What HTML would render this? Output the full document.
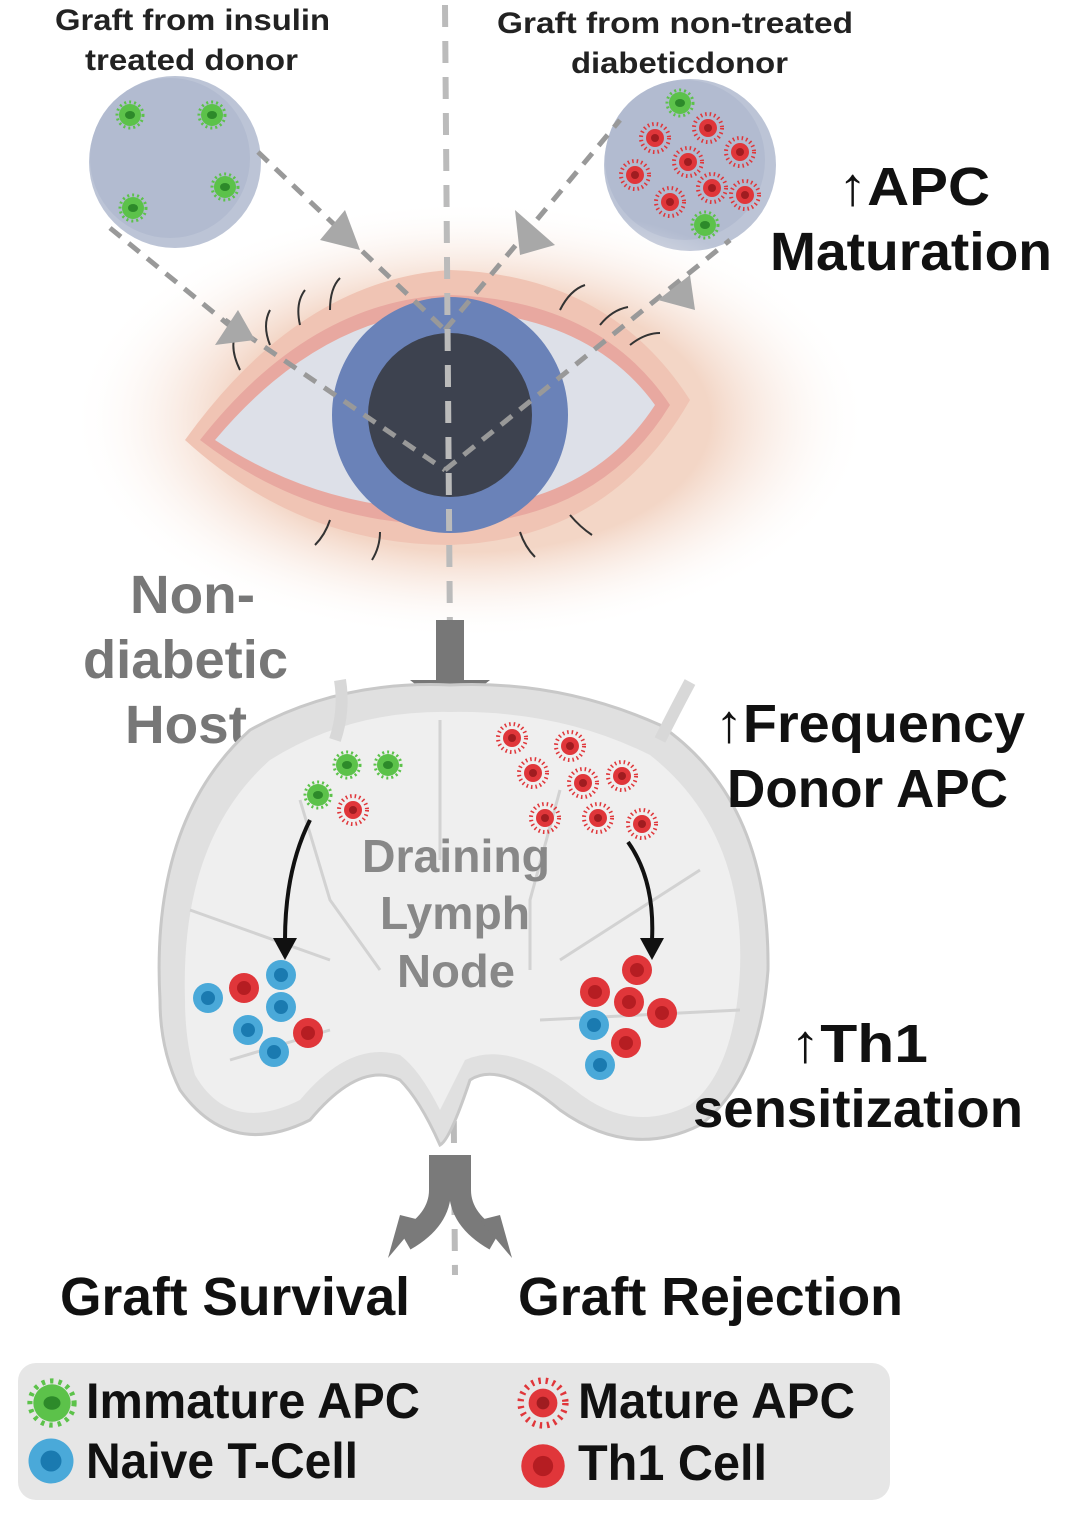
<!DOCTYPE html>
<html><head><meta charset="utf-8"><style>
html,body{margin:0;padding:0;background:#fff;}
svg{display:block;font-family:"Liberation Sans",sans-serif;font-weight:bold;}
</style></head><body>
<svg width="1080" height="1524" viewBox="0 0 1080 1524" xmlns="http://www.w3.org/2000/svg">
<defs>
<radialGradient id="halo" cx="50%" cy="50%" r="50%">
<stop offset="0.6" stop-color="#f3d6c6"/><stop offset="1" stop-color="#fff" stop-opacity="0"/></radialGradient>
<g id="gapc"><circle r="11" fill="#5cc24a"/><circle r="13" fill="none" stroke="#5cc24a" stroke-width="3" stroke-dasharray="2 3"/><ellipse rx="5" ry="4" fill="#2d8a2a"/></g>
<g id="rapc"><circle r="9" fill="#e0363a"/><circle r="14" fill="none" stroke="#e0363a" stroke-width="4" stroke-dasharray="1.5 3"/><circle r="4" fill="#a01c20"/></g>
<g id="bt"><circle r="15" fill="#4aa9d9"/><circle r="7" fill="#1a7ab0"/></g>
<g id="rt"><circle r="15" fill="#e0363a"/><circle r="7" fill="#b51d22"/></g>
</defs>

<g font-size="30" fill="#222">
<text x="55" y="30" textLength="275" lengthAdjust="spacingAndGlyphs">Graft from insulin</text>
<text x="85" y="70" textLength="213" lengthAdjust="spacingAndGlyphs">treated donor</text>
<text x="497" y="33" textLength="356" lengthAdjust="spacingAndGlyphs">Graft from non-treated</text>
<text x="571" y="73" textLength="217" lengthAdjust="spacingAndGlyphs">diabeticdonor</text>
</g>

<circle cx="175" cy="162" r="86" fill="#bcc4d6"/><circle cx="170" cy="158" r="80" fill="#b2bbd0"/>
<circle cx="690" cy="165" r="86" fill="#bcc4d6"/><circle cx="685" cy="160" r="80" fill="#b2bbd0"/>
<use href="#gapc" x="130" y="115"/><use href="#gapc" x="212" y="115"/><use href="#gapc" x="225" y="187"/><use href="#gapc" x="133" y="208"/>
<use href="#gapc" x="680" y="103"/><use href="#gapc" x="705" y="225"/>
<use href="#rapc" x="655" y="138"/><use href="#rapc" x="708" y="128"/><use href="#rapc" x="740" y="152"/><use href="#rapc" x="688" y="162"/><use href="#rapc" x="635" y="175"/><use href="#rapc" x="712" y="188"/><use href="#rapc" x="670" y="202"/><use href="#rapc" x="745" y="195"/>

<ellipse cx="470" cy="420" rx="400" ry="220" fill="url(#halo)"/>
<path d="M185 440 Q300 280 450 270 Q610 275 690 400 Q610 540 450 545 Q300 545 185 440Z" fill="#f0c4b4"/>
<path d="M200 440 Q310 300 450 295 Q600 300 670 405 Q600 520 450 525 Q310 525 200 440Z" fill="#e8a8a0"/>
<path d="M215 440 Q320 315 450 310 Q590 315 655 405 Q590 505 450 510 Q320 510 215 440Z" fill="#dde0e8"/>
<circle cx="450" cy="415" r="118" fill="#6a82b8"/>
<circle cx="450" cy="415" r="82" fill="#3d424f"/>
<g stroke="#333" stroke-width="2" fill="none">
<path d="M240 370 q-10 -20 -5 -35 M270 345 q-8 -20 0 -35 M300 325 q-5 -22 5 -35 M330 310 q0 -22 10 -32 M560 310 q10 -20 25 -25 M600 325 q12 -15 28 -18 M630 345 q15 -12 30 -12"/>
<path d="M330 520 q-5 15 -15 25 M380 532 q0 15 -8 28 M520 532 q5 15 15 25 M570 515 q10 12 22 20"/>
</g>

<g stroke="#999" stroke-width="5" stroke-dasharray="14 10" fill="none">
<line x1="258" y1="152" x2="445" y2="330"/><line x1="110" y1="228" x2="235" y2="330"/>
<line x1="445" y1="330" x2="620" y2="120"/><line x1="445" y1="470" x2="730" y2="240"/>
<line x1="225" y1="320" x2="445" y2="470"/>
</g>
<g fill="#a8a8a8">
<polygon points="360,250 345,210 320,240"/><polygon points="515,210 555,245 520,255"/>
<polygon points="215,345 255,340 238,310"/><polygon points="695,310 690,275 658,300"/>
</g>
<line x1="445" y1="5" x2="455" y2="1275" stroke="#bbb" stroke-width="6" stroke-dasharray="22 14"/>

<rect x="436" y="620" width="28" height="65" fill="#777"/>
<polygon points="410,680 490,680 450,712" fill="#777"/>

<g font-size="54" fill="#777">
<text x="130" y="613" textLength="125" lengthAdjust="spacingAndGlyphs">Non-</text>
<text x="83" y="678" textLength="205" lengthAdjust="spacingAndGlyphs">diabetic</text>
<text x="125" y="743" textLength="122" lengthAdjust="spacingAndGlyphs">Host</text></g>

<path d="M160 1000 Q150 820 250 730 Q340 680 450 685 Q560 680 660 725 Q770 800 768 970 Q760 1080 700 1125 Q630 1160 560 1110 Q500 1060 470 1080 Q450 1140 440 1145 Q420 1100 400 1080 Q360 1060 310 1120 Q230 1160 180 1090 Q160 1050 160 1000Z" fill="#e0e0e0" stroke="#c8c8c8" stroke-width="3"/>
<path d="M185 1000 Q180 840 270 760 Q350 710 450 712 Q560 710 650 755 Q745 830 740 970 Q735 1070 690 1105 Q630 1135 575 1090 Q510 1040 465 1060 Q445 1100 440 1110 Q420 1070 400 1055 Q350 1040 300 1100 Q230 1135 195 1075 Q185 1040 185 1000Z" fill="#efefef"/>
<g fill="none" stroke="#d8d8d8" stroke-width="12"><path d="M335 740 Q345 710 340 680"/><path d="M660 740 Q675 710 690 682"/></g>
<g stroke="#d2d2d2" stroke-width="3" fill="none">
<path d="M300 800 L330 900 L380 970 M190 910 L330 960 M560 790 L530 900 L530 970 M700 870 L560 960 M540 1020 L740 1010 M230 1060 L330 1030 M440 720 L440 860"/>
</g>
<g font-size="46" fill="#888">
<text x="362" y="872" textLength="188" lengthAdjust="spacingAndGlyphs">Draining</text>
<text x="380" y="929" textLength="150" lengthAdjust="spacingAndGlyphs">Lymph</text>
<text x="397" y="987" textLength="118" lengthAdjust="spacingAndGlyphs">Node</text></g>
<use href="#gapc" x="347" y="765"/><use href="#gapc" x="388" y="765"/><use href="#gapc" x="318" y="795"/><use href="#rapc" x="353" y="810"/>
<use href="#rapc" x="512" y="738"/><use href="#rapc" x="570" y="746"/><use href="#rapc" x="533" y="773"/><use href="#rapc" x="583" y="783"/><use href="#rapc" x="622" y="776"/><use href="#rapc" x="545" y="818"/><use href="#rapc" x="598" y="818"/><use href="#rapc" x="642" y="824"/>
<g stroke="#111" stroke-width="4" fill="none"><path d="M310 820 Q285 870 285 940"/><path d="M628 842 Q655 880 652 940"/></g>
<polygon points="273,938 297,938 285,960" fill="#111"/><polygon points="640,938 664,938 652,960" fill="#111"/>
<use href="#bt" x="208" y="998"/><use href="#rt" x="244" y="988"/><use href="#bt" x="281" y="975"/><use href="#bt" x="281" y="1007"/><use href="#bt" x="248" y="1030"/><use href="#rt" x="308" y="1033"/><use href="#bt" x="274" y="1052"/>
<use href="#rt" x="637" y="970"/><use href="#rt" x="595" y="992"/><use href="#rt" x="629" y="1002"/><use href="#rt" x="662" y="1013"/><use href="#bt" x="594" y="1025"/><use href="#rt" x="626" y="1043"/><use href="#bt" x="600" y="1065"/>

<g fill="none" stroke="#7a7a7a" stroke-width="22"><path d="M440 1155 L440 1190 Q440 1220 405 1240"/><path d="M460 1155 L460 1190 Q460 1220 495 1240"/></g>
<polygon points="388,1258 420,1220 400,1215" fill="#7a7a7a"/><polygon points="512,1258 480,1220 500,1215" fill="#7a7a7a"/>

<g font-size="54" fill="#111">
<text x="838" y="205" textLength="152" lengthAdjust="spacingAndGlyphs">↑APC</text>
<text x="770" y="270" textLength="282" lengthAdjust="spacingAndGlyphs">Maturation</text>
<text x="715" y="742" textLength="310" lengthAdjust="spacingAndGlyphs">↑Frequency</text>
<text x="727" y="807" textLength="281" lengthAdjust="spacingAndGlyphs">Donor APC</text>
<text x="790" y="1062" textLength="138" lengthAdjust="spacingAndGlyphs">↑Th1</text>
<text x="693" y="1127" textLength="330" lengthAdjust="spacingAndGlyphs">sensitization</text>
<text x="60" y="1315" textLength="350" lengthAdjust="spacingAndGlyphs">Graft Survival</text>
<text x="518" y="1315" textLength="385" lengthAdjust="spacingAndGlyphs">Graft Rejection</text>
</g>

<rect x="18" y="1363" width="872" height="137" rx="18" fill="#e6e6e6"/>
<g transform="translate(52 1403) scale(1.7)"><use href="#gapc"/></g>
<g transform="translate(51 1461) scale(1.5)"><use href="#bt"/></g>
<g transform="translate(543 1403) scale(1.6)"><use href="#rapc"/></g>
<g transform="translate(543 1466) scale(1.45)"><use href="#rt"/></g>
<g font-size="50" fill="#111">
<text x="86" y="1418" textLength="334" lengthAdjust="spacingAndGlyphs">Immature APC</text>
<text x="86" y="1478" textLength="272" lengthAdjust="spacingAndGlyphs">Naive T-Cell</text>
<text x="578" y="1418" textLength="277" lengthAdjust="spacingAndGlyphs">Mature APC</text>
<text x="578" y="1480" textLength="189" lengthAdjust="spacingAndGlyphs">Th1 Cell</text></g>
</svg>
</body></html>
